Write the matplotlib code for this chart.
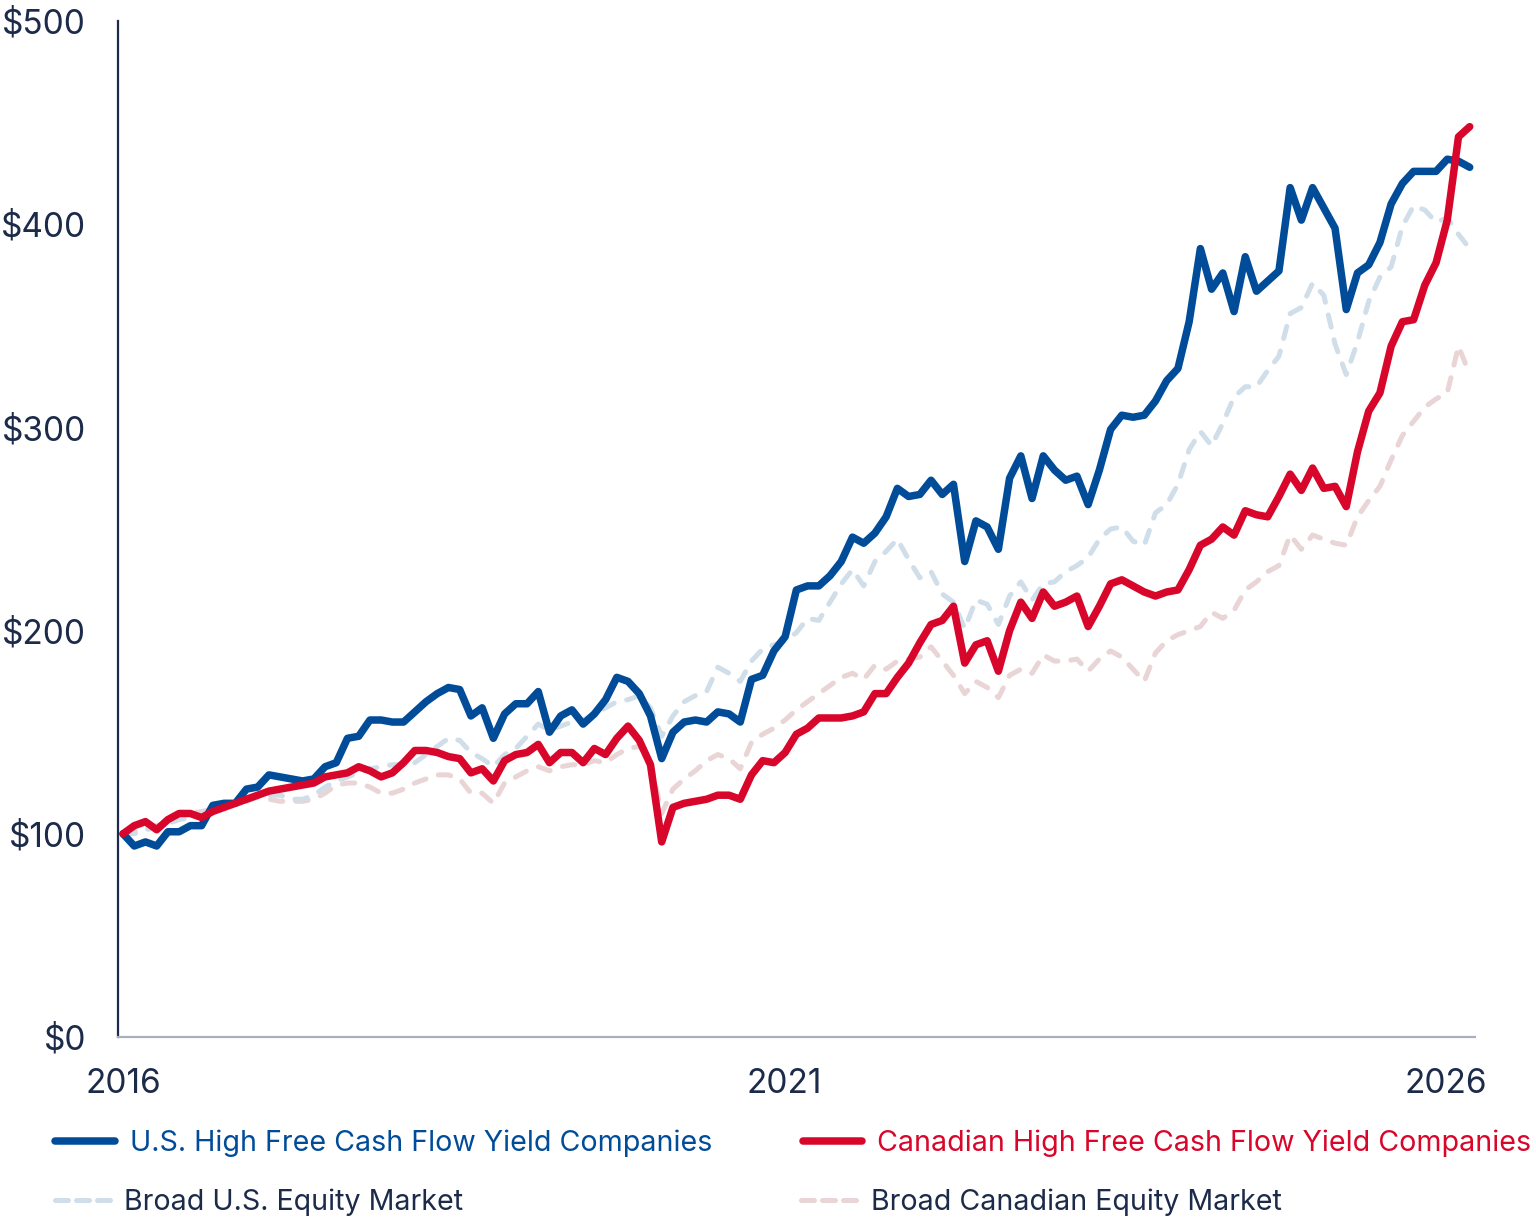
import numpy as np
import matplotlib.pyplot as plt
from matplotlib.lines import Line2D

plt.rcParams['font.family'] = ['Inter', 'DejaVu Sans']

# growth of $100, evenly spaced observations from start of 2016 to early 2026
start_year = 2016.0
end_year = 2026.18

us_hfcf = [100, 94, 96, 94, 101, 101, 104, 104, 114, 115, 115, 122,
           123, 129, 128, 127, 126, 127, 133, 135, 147, 148, 156, 156,
           155, 155, 160, 165, 169, 172, 171, 158, 162, 147, 159, 164,
           164, 170, 150, 158, 161, 154, 159, 166, 177, 175, 169, 158,
           137, 150, 155, 156, 155, 160, 159, 155, 176, 178, 190, 197,
           220, 222, 222, 227, 234, 246, 243, 248, 256, 270, 266, 267,
           274, 267, 272, 234, 254, 251, 240, 275, 286, 265, 286, 279,
           274, 276, 262, 279, 299, 306, 305, 306, 313, 323, 329, 352,
           388, 368, 376, 357, 384, 367, 372, 377, 418, 402, 418, 408,
           398, 358, 376, 380, 391, 410, 420, 426, 426, 426, 432, 431,
           428]

ca_hfcf = [100, 104, 106, 102, 107, 110, 110, 108, 111, 113, 115, 117,
           119, 121, 122, 123, 124, 125, 128, 129, 130, 133, 131, 128,
           130, 135, 141, 141, 140, 138, 137, 130, 132, 126, 136, 139,
           140, 144, 135, 140, 140, 135, 142, 139, 147, 153, 146, 134,
           96, 113, 115, 116, 117, 119, 119, 117, 129, 136, 135, 140,
           149, 152, 157, 157, 157, 158, 160, 169, 169, 177, 184, 194,
           203, 205, 212, 184, 193, 195, 180, 200, 214, 206, 219, 212,
           214, 217, 202, 212, 223, 225, 222, 219, 217, 219, 220, 230,
           242, 245, 251, 247, 259, 257, 256, 266, 277, 269, 280, 270,
           271, 261, 288, 308, 317, 340, 352, 353, 370, 381, 402, 443,
           448]

us_broad = [100, 100, 102, 103, 105, 107, 108, 110, 112, 113, 115, 116,
            118, 119, 119, 117, 117, 119, 123, 126, 128, 130, 132, 133,
            134, 134, 135, 139, 143, 147, 146, 140, 137, 133, 139, 142,
            148, 154, 151, 153, 155, 156, 159, 162, 165, 166, 168, 162,
            148, 158, 165, 168, 170, 182, 179, 175, 185, 191, 193, 195,
            199, 206, 205, 214, 223, 230, 222, 234, 239, 245, 235, 226,
            229, 218, 214, 201, 215, 213, 203, 217, 224, 215, 223, 224,
            229, 232, 236, 245, 250, 251, 244, 242, 258, 262, 272, 289,
            298, 291, 302, 315, 320, 320, 328, 335, 356, 359, 371, 365,
            341, 326, 342, 362, 374, 379, 399, 409, 407, 401, 403, 395,
            388]

ca_broad = [100, 101, 103, 104, 106, 108, 110, 111, 112, 114, 115, 117,
            118, 117, 116, 116, 116, 117, 120, 124, 125, 125, 123, 120,
            120, 122, 125, 127, 129, 129, 127, 120, 120, 115, 125, 128,
            131, 133, 131, 133, 134, 134, 136, 135, 139, 142, 143, 136,
            110, 122, 127, 131, 136, 139, 137, 132, 145, 149, 152, 156,
            161, 165, 169, 173, 177, 179, 176, 183, 181, 185, 186, 187,
            192, 185, 178, 169, 175, 172, 167, 178, 181, 179, 188, 185,
            185, 186, 180, 186, 190, 187, 181, 175, 189, 195, 198, 200,
            202, 209, 206, 210, 220, 224, 229, 232, 247, 240, 247, 245,
            243, 242, 256, 264, 271, 284, 296, 303, 310, 314, 317, 340,
            326]

y_ticks = [0, 100, 200, 300, 400, 500]
y_labels = ['$0', '$100', '$200', '$300', '$400', '$500']
x_ticks = [2016, 2021, 2026]

labels = ['U.S. High Free Cash Flow Yield Companies',
          'Canadian High Free Cash Flow Yield Companies',
          'Broad U.S. Equity Market',
          'Broad Canadian Equity Market']

BLUE = '#004C99'
RED = '#D7062A'
LIGHT_BLUE = '#D0DEEA'
PINK = '#E9D4D6'
NAVY = '#1C2B4A'

W, H = 1536, 1218
fig = plt.figure(figsize=(W / 100, H / 100), dpi=100)
ax = fig.add_axes([118 / W, 1 - 1037 / H, (1475 - 118) / W, (1037 - 21) / H])

years = np.linspace(start_year, end_year, len(us_hfcf))

dash_kw = dict(lw=3.6, dashes=(2.5, 2.6), dash_capstyle='round')
legend_dash_kw = dict(lw=3.6, dashes=(2.6, 1.6), dash_capstyle='round')
solid_kw = dict(lw=5.4, solid_capstyle='round', solid_joinstyle='round')

ax.plot(years, ca_broad, color=PINK, zorder=2, **dash_kw)
ax.plot(years, us_broad, color=LIGHT_BLUE, zorder=2, **dash_kw)
ax.plot(years, us_hfcf, color=BLUE, zorder=3, **solid_kw)
ax.plot(years, ca_hfcf, color=RED, zorder=4, **solid_kw)

ax.set_xlim(2015.962, 2026.22)
ax.set_ylim(0, 500)
ax.set_yticks(y_ticks)
ax.set_yticklabels(y_labels)
ax.set_xticks(x_ticks)
ax.set_xticklabels([str(x) for x in x_ticks])
ax.tick_params(axis='y', length=0, pad=23, labelsize=24, labelcolor=NAVY)
ax.tick_params(axis='x', length=0, pad=22, labelsize=24, labelcolor=NAVY)

for s in ['top', 'right']:
    ax.spines[s].set_visible(False)
ax.spines['left'].set_color(NAVY)
ax.spines['left'].set_linewidth(1.6)
ax.spines['bottom'].set_color('#A9AFBD')
ax.spines['bottom'].set_linewidth(1.6)

# legend, two rows by two columns, drawn under the plot
legend_items = [
    (labels[0], BLUE, BLUE, solid_kw, 55, 115, 130, 1141),
    (labels[1], RED, RED, solid_kw, 803, 862, 877, 1141),
    (labels[2], LIGHT_BLUE, NAVY, legend_dash_kw, 54.5, 109.5, 124, 1200),
    (labels[3], PINK, NAVY, legend_dash_kw, 800.5, 855.5, 871, 1200),
]
for text, lcolor, tcolor, kw, x0, x1, tx, ty in legend_items:
    fy = 1 - ty / H
    fig.add_artist(Line2D([x0 / W, x1 / W], [fy, fy], color=lcolor,
                          transform=fig.transFigure, **kw))
    fig.text(tx / W, fy - 2 / H, text, color=tcolor, fontsize=20.6,
             va='center', ha='left')

fig.savefig('out.png', dpi=100)
